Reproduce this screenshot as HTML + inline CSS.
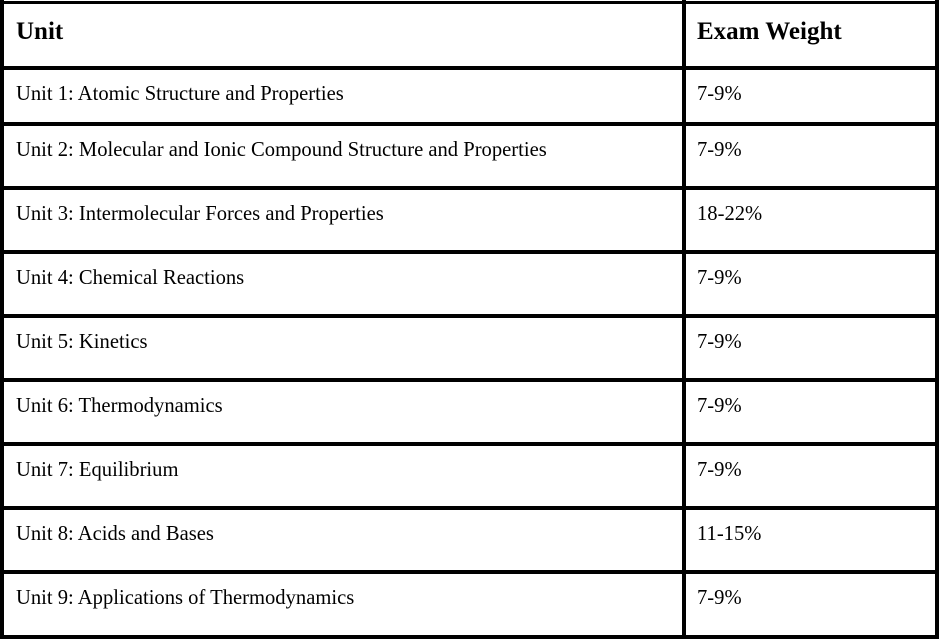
<!DOCTYPE html>
<html>
<head>
<meta charset="utf-8">
<style>
  html, body { margin:0; padding:0; background:#fff; }
  body { width:940px; height:640px; position:relative; overflow:hidden; }
  .h { position:absolute; left:0; width:939px; height:4px; background:#000; }
  .v { position:absolute; top:0; width:4px; height:639px; background:#000; }
  .t { position:absolute; font-family:"Liberation Serif", "Times New Roman", serif; font-size:20.6px; line-height:20.6px; color:#000; white-space:nowrap; }
  .hd { font-size:25px; line-height:25px; font-weight:bold; }
</style>
</head>
<body>
  <div class="h" style="top:1px;height:3px"></div>
  <div class="h" style="top:66px"></div>
  <div class="h" style="top:122px"></div>
  <div class="h" style="top:186px"></div>
  <div class="h" style="top:250px"></div>
  <div class="h" style="top:314px"></div>
  <div class="h" style="top:378px"></div>
  <div class="h" style="top:442px"></div>
  <div class="h" style="top:506px"></div>
  <div class="h" style="top:570px"></div>
  <div class="h" style="top:635px"></div>
  <div class="v" style="left:0px"></div>
  <div class="v" style="left:682px"></div>
  <div class="v" style="left:935px"></div>

  <div class="t hd" style="left:16px;top:19px">Unit</div>
  <div class="t hd" style="left:697px;top:19px">Exam Weight</div>

  <div class="t" style="left:16px;top:84.3px">Unit 1: Atomic Structure and Properties</div>
  <div class="t" style="left:697px;top:84.3px">7-9%</div>

  <div class="t" style="left:16px;top:140.3px">Unit 2: Molecular and Ionic Compound Structure and Properties</div>
  <div class="t" style="left:697px;top:140.3px">7-9%</div>

  <div class="t" style="left:16px;top:204.3px">Unit 3: Intermolecular Forces and Properties</div>
  <div class="t" style="left:697px;top:204.3px">18-22%</div>

  <div class="t" style="left:16px;top:268.3px">Unit 4: Chemical Reactions</div>
  <div class="t" style="left:697px;top:268.3px">7-9%</div>

  <div class="t" style="left:16px;top:332.3px">Unit 5: Kinetics</div>
  <div class="t" style="left:697px;top:332.3px">7-9%</div>

  <div class="t" style="left:16px;top:396.3px">Unit 6: Thermodynamics</div>
  <div class="t" style="left:697px;top:396.3px">7-9%</div>

  <div class="t" style="left:16px;top:460.3px">Unit 7: Equilibrium</div>
  <div class="t" style="left:697px;top:460.3px">7-9%</div>

  <div class="t" style="left:16px;top:524.3px">Unit 8: Acids and Bases</div>
  <div class="t" style="left:697px;top:524.3px">11-15%</div>

  <div class="t" style="left:16px;top:588.3px">Unit 9: Applications of Thermodynamics</div>
  <div class="t" style="left:697px;top:588.3px">7-9%</div>
</body>
</html>
